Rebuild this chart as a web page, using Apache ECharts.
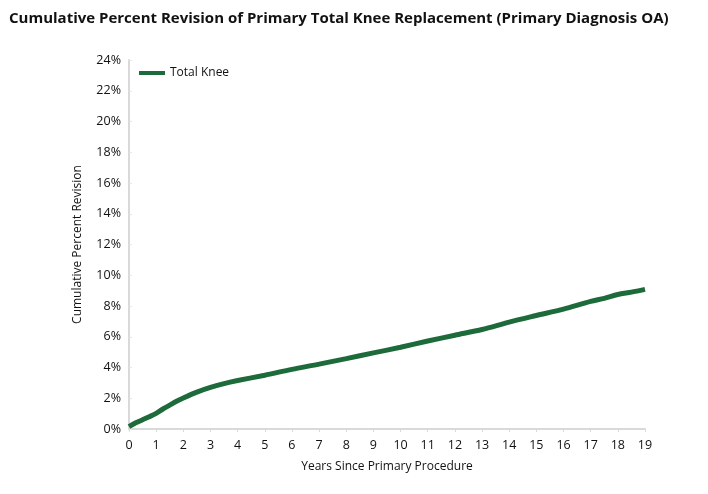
<!DOCTYPE html>
<html>
<head>
<meta charset="utf-8">
<script src="https://cdn.jsdelivr.net/npm/echarts@6/dist/echarts.min.js"></script>
<style>
  html, body { margin: 0; padding: 0; background: #fff; }
  #chart { width: 708px; height: 494px; }
</style>
</head>
<body>
<div id="chart"></div>
<script>
// years since primary procedure and cumulative percent revision
var years = [0, 0.25, 0.5, 0.75, 1, 1.25, 1.5, 1.75, 2, 2.5, 3, 3.5, 4, 5, 6, 7, 8, 9, 10, 11, 12, 13, 14, 15, 16, 17, 17.5, 18, 18.5, 19];
var revision = [0.15, 0.4, 0.6, 0.8, 1.02, 1.3, 1.55, 1.8, 2.02, 2.4, 2.7, 2.95, 3.15, 3.5, 3.88, 4.22, 4.58, 4.95, 5.32, 5.72, 6.1, 6.47, 6.95, 7.38, 7.8, 8.3, 8.5, 8.75, 8.9, 9.08];
var xTicks = [0, 19, 1];
var yTicks = [0, 24, 2];
var seriesName = 'Total Knee';

var points = years.map(function (y, i) { return [y, revision[i]]; });

var chart = echarts.init(document.getElementById('chart'));
chart.setOption({
  animation: false,
  title: {
    text: 'Cumulative Percent Revision of Primary Total Knee Replacement (Primary Diagnosis OA)',
    left: 4,
    top: 6,
    textStyle: { fontFamily: 'Open Sans', fontSize: 15, fontWeight: 'bold', color: '#111' }
  },
  legend: {
    left: 134,
    top: 62,
    itemWidth: 26,
    itemHeight: 4,
    icon: 'rect',
    textStyle: { fontFamily: 'Open Sans', fontSize: 12, color: '#111' },
    data: [seriesName]
  },
  grid: { left: 129, right: 63, top: 60, bottom: 65, containLabel: false },
  xAxis: {
    type: 'value',
    min: xTicks[0], max: xTicks[1], interval: xTicks[2],
    name: 'Years Since Primary Procedure',
    nameLocation: 'middle',
    nameGap: 32,
    nameTextStyle: { fontFamily: 'Open Sans', fontSize: 12, color: '#111' },
    axisLine: { lineStyle: { color: '#d9d9d9', width: 2 } },
    axisTick: { show: true, length: 3, lineStyle: { color: '#d9d9d9' } },
    axisLabel: { fontFamily: 'Open Sans', fontSize: 12.5, color: '#111', margin: 10 },
    splitLine: { show: false }
  },
  yAxis: {
    type: 'value',
    min: yTicks[0], max: yTicks[1], interval: yTicks[2],
    name: 'Cumulative Percent Revision',
    nameLocation: 'middle',
    nameGap: 45,
    nameTextStyle: { fontFamily: 'Open Sans', fontSize: 12, color: '#111' },
    axisLine: { show: true, lineStyle: { color: '#d9d9d9', width: 2 } },
    axisTick: { show: true, inside: true, length: 3, lineStyle: { color: '#e6e6e6' } },
    axisLabel: { fontFamily: 'Open Sans', fontSize: 12.5, color: '#111', margin: 8, formatter: '{value}%' },
    splitLine: { show: false }
  },
  series: [{
    name: seriesName,
    type: 'line',
    smooth: 0.3,
    showSymbol: false,
    data: points,
    lineStyle: { color: '#1d6a3b', width: 5 },
    itemStyle: { color: '#1d6a3b' }
  }]
});
</script>
</body>
</html>
